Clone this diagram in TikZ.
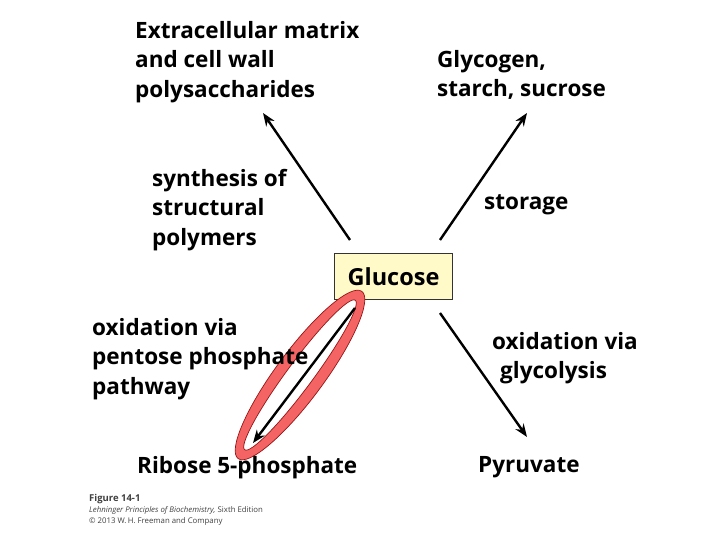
\documentclass[tikz,border=0pt]{standalone}
\usepackage{fontspec}
\setmainfont{Open Sans}
\usetikzlibrary{arrows.meta}
\definecolor{ringfill}{RGB}{245,100,100}
\definecolor{ringedge}{RGB}{150,20,20}
\definecolor{boxfill}{RGB}{255,250,200}
\begin{document}
\begin{tikzpicture}[x=1pt,y=1pt,
  lab/.style={anchor=north west,align=left,font=\fontsize{22.5}{29.5}\selectfont\bfseries,inner sep=0pt},
  arr/.style={line width=2.4pt,-{Stealth[length=13pt,width=10pt]}},
  figcap/.style={anchor=north west,inner sep=0pt,font=\fontsize{7.8}{11}\selectfont,text=black!75,align=left}]
\useasboundingbox (0,0) rectangle (720,540);
\fill[white] (0,0) rectangle (720,540);
\node[draw=black!80,line width=1.5pt,fill=boxfill,minimum width=118pt,minimum height=46pt,font=\fontsize{23.5}{26}\selectfont\bfseries] (g) at (393.5,263.5) {Glucose};
\coordinate (s1) at (350,300); \coordinate (e1) at (263,427);
\coordinate (s2) at (440,300); \coordinate (e2) at (527,427);
\coordinate (s3) at (440,227); \coordinate (e3) at (527,103);
\coordinate (s4) at (355,232); \coordinate (e4) at (253,97);
\begin{scope}[shift={(300,165)},rotate=53.5]
\fill[even odd rule,fill=ringfill] (0,0) ellipse (104pt and 24pt) (0,0) ellipse (93pt and 13pt);
\draw[ringedge,line width=0.7pt] (0,0) ellipse (104pt and 24pt) (0,0) ellipse (93pt and 13pt);
\end{scope}
\draw[arr] (s1) -- (e1);
\draw[arr] (s2) -- (e2);
\draw[arr] (s3) -- (e3);
\draw[arr] (s4) -- (e4);
\node[lab] (t1) at (135,519) {Extracellular matrix\\and cell wall\\polysaccharides};
\node[lab] (t2) at (437,490) {Glycogen,\\starch, sucrose};
\node[lab] (t3) at (152,371) {synthesis of\\structural\\polymers};
\node[lab] (t4) at (484,346) {storage};
\node[lab] (t5) at (92,222) {oxidation via\\pentose phosphate\\pathway};
\node[lab] (t6) at (492,208) {oxidation via\\\hspace*{8pt}glycolysis};
\node[lab] (t7) at (137,84) {Ribose 5-phosphate};
\node[lab] (t8) at (478,84) {Pyruvate};
\node[figcap] (c) at (89,46) {{\fontsize{9.5}{11}\selectfont\bfseries Figure 14-1}\\\itshape Lehninger Principles of Biochemistry,\upshape{} Sixth Edition\\© 2013 W.\,H. Freeman and Company};
\end{tikzpicture}
\end{document}
